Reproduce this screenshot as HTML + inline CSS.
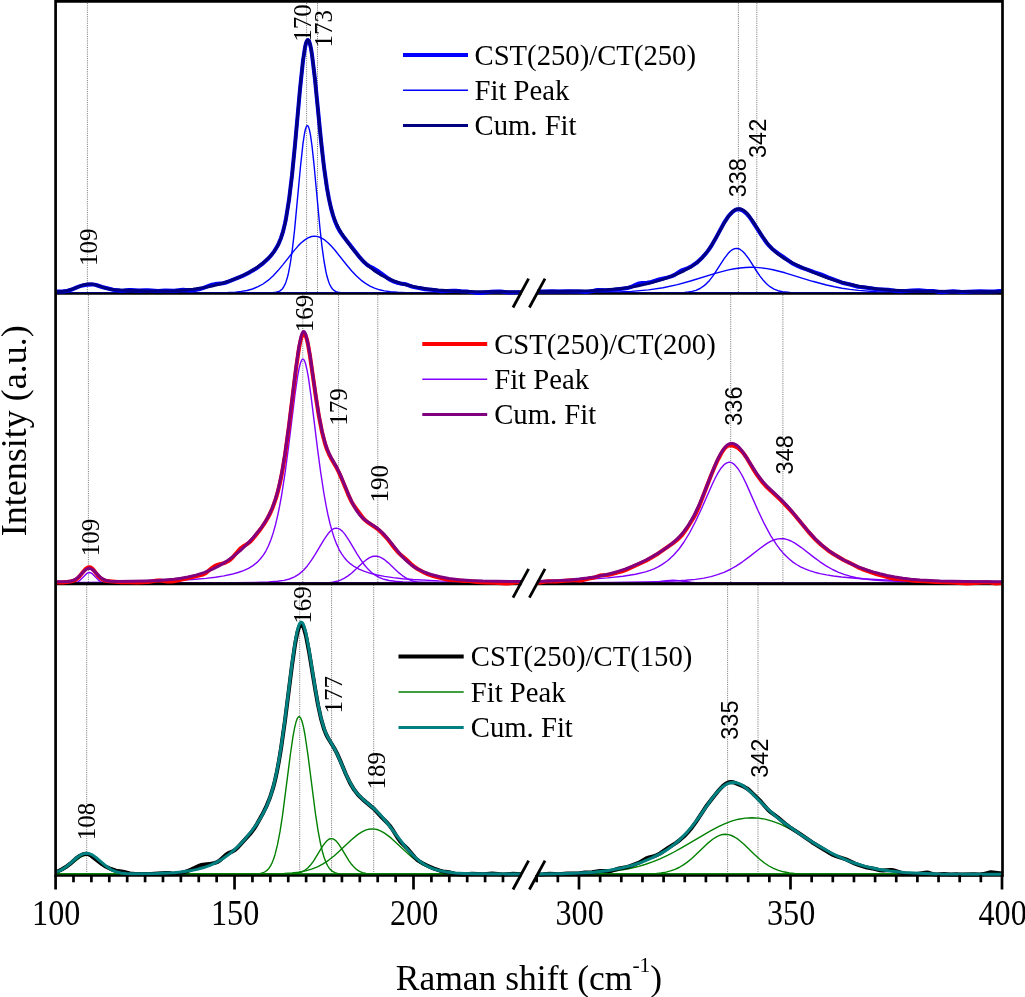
<!DOCTYPE html>
<html><head><meta charset="utf-8"><style>
html,body{margin:0;padding:0;background:#fff;width:1025px;height:997px;overflow:hidden}
svg{display:block;will-change:transform}
</style></head><body>
<svg width="1025" height="997" viewBox="0 0 1025 997">
<rect width="1025" height="997" fill="#fff"/>
<line x1="87.40" y1="3" x2="87.40" y2="292.0" stroke="#707070" stroke-width="0.9" stroke-dasharray="1.1 1.1"/>
<line x1="306.60" y1="3" x2="306.60" y2="292.0" stroke="#707070" stroke-width="0.9" stroke-dasharray="1.1 1.1"/>
<line x1="317.50" y1="3" x2="317.50" y2="292.0" stroke="#707070" stroke-width="0.9" stroke-dasharray="1.1 1.1"/>
<line x1="738.40" y1="3" x2="738.40" y2="292.0" stroke="#707070" stroke-width="0.9" stroke-dasharray="1.1 1.1"/>
<line x1="756.80" y1="3" x2="756.80" y2="292.0" stroke="#707070" stroke-width="0.9" stroke-dasharray="1.1 1.1"/>
<line x1="88.40" y1="295" x2="88.40" y2="582.0" stroke="#707070" stroke-width="0.9" stroke-dasharray="1.1 1.1"/>
<line x1="302.80" y1="295" x2="302.80" y2="582.0" stroke="#707070" stroke-width="0.9" stroke-dasharray="1.1 1.1"/>
<line x1="338.60" y1="295" x2="338.60" y2="582.0" stroke="#707070" stroke-width="0.9" stroke-dasharray="1.1 1.1"/>
<line x1="377.80" y1="295" x2="377.80" y2="582.0" stroke="#707070" stroke-width="0.9" stroke-dasharray="1.1 1.1"/>
<line x1="730.70" y1="295" x2="730.70" y2="582.0" stroke="#707070" stroke-width="0.9" stroke-dasharray="1.1 1.1"/>
<line x1="782.90" y1="295" x2="782.90" y2="582.0" stroke="#707070" stroke-width="0.9" stroke-dasharray="1.1 1.1"/>
<line x1="86.70" y1="585" x2="86.70" y2="874.3" stroke="#707070" stroke-width="0.9" stroke-dasharray="1.1 1.1"/>
<line x1="299.70" y1="585" x2="299.70" y2="874.3" stroke="#707070" stroke-width="0.9" stroke-dasharray="1.1 1.1"/>
<line x1="331.60" y1="585" x2="331.60" y2="874.3" stroke="#707070" stroke-width="0.9" stroke-dasharray="1.1 1.1"/>
<line x1="373.70" y1="585" x2="373.70" y2="874.3" stroke="#707070" stroke-width="0.9" stroke-dasharray="1.1 1.1"/>
<line x1="727.60" y1="585" x2="727.60" y2="874.3" stroke="#707070" stroke-width="0.9" stroke-dasharray="1.1 1.1"/>
<line x1="758.00" y1="585" x2="758.00" y2="874.3" stroke="#707070" stroke-width="0.9" stroke-dasharray="1.1 1.1"/>
<path d="M57.0,292.8 L268.5,292.8 L273.0,292.7 L276.0,292.3 L278.0,291.8 L280.0,290.9 L282.0,289.2 L283.5,287.3 L285.0,284.4 L286.0,281.9 L287.5,277.0 L288.5,272.9 L290.5,262.2 L292.5,248.1 L294.5,230.6 L300.5,166.5 L303.0,143.4 L304.5,133.5 L305.5,128.9 L306.5,126.3 L307.0,125.7 L307.5,125.6 L308.0,126.0 L308.5,126.9 L309.5,130.1 L310.5,135.2 L312.0,145.9 L314.0,164.5 L320.0,228.7 L322.0,246.6 L324.0,261.0 L326.0,272.0 L327.0,276.3 L328.5,281.3 L329.5,284.0 L331.0,286.9 L332.5,289.0 L334.0,290.4 L336.0,291.6 L338.0,292.2 L341.0,292.6 L345.5,292.8 L521.0,292.8" fill="none" stroke="#0000ff" stroke-width="1.4" stroke-linejoin="round"/>
<path d="M537.0,292.8 L1001.5,292.8" fill="none" stroke="#0000ff" stroke-width="1.4" stroke-linejoin="round"/>
<path d="M57.0,292.8 L218.5,292.7 L228.0,292.5 L235.5,292.1 L241.5,291.4 L247.0,290.5 L252.5,289.0 L258.0,286.7 L263.0,284.0 L268.0,280.4 L273.0,275.9 L278.0,270.6 L283.0,264.6 L294.5,250.1 L298.0,246.1 L301.0,243.0 L304.5,240.1 L308.0,237.9 L311.5,236.5 L314.5,236.1 L318.0,236.6 L321.5,238.0 L325.0,240.2 L328.5,243.2 L331.5,246.3 L335.0,250.3 L346.5,264.8 L351.5,270.8 L356.5,276.1 L361.0,280.1 L365.5,283.4 L370.0,286.1 L374.5,288.1 L379.5,289.8 L384.5,290.9 L390.5,291.8 L397.5,292.3 L406.0,292.6 L426.5,292.8 L521.0,292.8" fill="none" stroke="#0000ff" stroke-width="1.4" stroke-linejoin="round"/>
<path d="M537.0,292.8 L1001.5,292.8" fill="none" stroke="#0000ff" stroke-width="1.4" stroke-linejoin="round"/>
<path d="M57.0,292.8 L521.0,292.8" fill="none" stroke="#0000ff" stroke-width="1.4" stroke-linejoin="round"/>
<path d="M537.0,292.8 L673.5,292.8 L684.5,292.4 L688.5,292.0 L692.0,291.4 L696.0,290.3 L700.0,288.5 L703.5,286.2 L706.5,283.6 L709.5,280.4 L713.0,275.9 L724.0,258.9 L728.0,253.6 L730.5,251.0 L732.5,249.6 L734.5,248.7 L736.5,248.4 L738.5,248.7 L740.5,249.7 L742.5,251.2 L745.0,253.8 L749.0,259.2 L756.5,271.0 L760.0,276.1 L763.5,280.6 L766.5,283.8 L770.0,286.7 L774.0,289.1 L778.0,290.7 L782.5,291.7 L790.0,292.5 L802.5,292.8 L1001.5,292.8" fill="none" stroke="#0000ff" stroke-width="1.4" stroke-linejoin="round"/>
<path d="M57.0,292.8 L521.0,292.7" fill="none" stroke="#0000ff" stroke-width="1.4" stroke-linejoin="round"/>
<path d="M537.0,292.7 L585.5,292.6 L611.5,292.3 L631.5,291.4 L648.5,289.9 L663.0,287.7 L677.5,284.6 L690.5,281.0 L717.0,272.9 L728.5,269.9 L734.5,268.8 L740.0,268.0 L745.5,267.5 L751.0,267.3 L756.0,267.4 L761.5,267.9 L767.0,268.6 L773.0,269.8 L785.0,272.8 L812.5,281.3 L826.5,285.0 L834.5,286.8 L842.0,288.2 L850.0,289.4 L858.5,290.4 L876.5,291.8 L899.5,292.4 L930.0,292.7 L1001.5,292.8" fill="none" stroke="#0000ff" stroke-width="1.4" stroke-linejoin="round"/>
<line x1="55.6" y1="293.6" x2="1002.5" y2="293.6" stroke="#000" stroke-width="2.2"/>
<path d="M57.0,291.6 L63.0,291.5 L67.0,290.9 L71.0,289.8 L78.0,286.9 L81.0,285.9 L87.0,284.8 L92.0,284.5 L94.0,284.6 L96.0,285.0 L102.0,287.0 L113.0,289.7 L121.0,290.7 L124.0,290.6 L129.0,290.0 L131.0,289.9 L139.0,290.6 L145.0,290.3 L148.0,290.3 L158.0,291.1 L165.0,290.6 L174.0,290.7 L183.0,289.8 L191.0,290.4 L195.0,290.1 L199.0,289.2 L203.0,288.1 L212.0,284.7 L215.0,284.1 L223.0,283.2 L226.0,282.5 L229.0,281.4 L242.0,276.2 L250.0,272.1 L257.0,268.0 L262.0,264.2 L268.0,258.8 L271.0,255.5 L274.0,251.6 L277.0,246.8 L279.0,242.8 L281.0,237.9 L283.0,231.6 L285.0,223.4 L286.0,218.5 L289.0,199.9 L292.0,175.2 L295.0,144.9 L300.0,89.2 L303.0,60.7 L305.0,47.5 L306.0,43.3 L307.0,40.8 L308.0,40.1 L309.0,41.2 L310.0,44.1 L311.0,48.6 L312.0,54.7 L315.0,79.6 L321.0,140.5 L324.0,167.1 L327.0,188.1 L329.0,199.1 L331.0,208.1 L333.0,215.4 L335.0,221.3 L337.0,226.0 L339.0,229.9 L341.0,233.1 L344.0,237.3 L360.0,257.7 L364.0,262.1 L367.0,264.7 L369.0,266.0 L374.0,268.6 L377.0,270.4 L387.0,277.7 L391.0,280.3 L394.0,281.7 L397.0,282.7 L400.0,283.4 L406.0,284.3 L412.0,286.6 L414.0,287.1 L425.0,289.2 L434.0,289.9 L440.0,291.1 L442.0,291.3 L453.0,290.7 L456.0,290.7 L461.0,291.2 L468.0,291.6 L476.0,292.9 L479.0,293.0 L483.0,292.8 L491.0,291.7 L497.0,291.4 L501.0,291.6 L508.0,292.6 L521.0,292.3" fill="none" stroke="#0000ff" stroke-width="4" stroke-linejoin="round" />
<path d="M537.0,291.4 L544.0,291.5 L552.0,291.2 L559.0,291.5 L568.0,291.3 L578.0,291.5 L586.0,292.0 L590.0,291.6 L596.0,290.3 L598.0,290.0 L606.0,290.2 L614.0,289.8 L628.0,287.9 L631.0,287.0 L636.0,284.6 L639.0,283.5 L641.0,283.1 L647.0,282.8 L650.0,282.3 L659.0,279.5 L667.0,277.6 L672.0,276.1 L675.0,274.6 L681.0,270.6 L688.0,268.0 L692.0,265.9 L697.0,262.5 L701.0,258.8 L706.0,253.4 L709.0,249.4 L711.0,246.4 L715.0,239.6 L724.0,222.9 L728.0,216.8 L731.0,213.4 L733.0,211.6 L735.0,210.2 L736.0,209.8 L738.0,209.4 L740.0,209.5 L742.0,210.2 L744.0,211.4 L747.0,214.1 L749.0,216.4 L752.0,220.6 L763.0,237.7 L767.0,243.3 L769.0,245.7 L772.0,248.7 L778.0,253.4 L784.0,257.5 L792.0,263.2 L798.0,266.2 L802.0,267.9 L808.0,269.8 L814.0,272.2 L821.0,274.3 L828.0,277.3 L842.0,282.7 L850.0,284.5 L858.0,286.7 L865.0,287.4 L877.0,289.2 L888.0,289.7 L895.0,290.8 L899.0,291.2 L903.0,291.2 L912.0,290.5 L919.0,290.3 L927.0,290.9 L933.0,290.9 L939.0,292.0 L942.0,292.3 L945.0,292.1 L953.0,291.2 L962.0,292.0 L980.0,291.3 L988.0,291.5 L996.0,291.3 L1000.0,290.9 L1002.0,291.1" fill="none" stroke="#0000ff" stroke-width="4" stroke-linejoin="round" />
<path d="M57.0,291.8 L63.0,291.3 L68.0,290.4 L73.0,288.9 L83.0,285.0 L86.0,284.2 L89.0,283.9 L92.0,284.1 L95.0,284.7 L104.0,287.7 L109.0,288.9 L114.0,289.7 L120.0,290.1 L150.0,291.1 L166.0,291.1 L175.0,290.7 L184.0,290.1 L193.0,289.2 L201.0,288.1 L211.0,286.2 L221.0,283.7 L231.0,280.5 L240.0,276.9 L248.0,273.0 L255.0,268.9 L262.0,263.8 L268.0,258.5 L271.0,255.4 L274.0,251.6 L277.0,247.0 L279.0,243.0 L281.0,238.0 L283.0,231.7 L285.0,223.6 L286.0,218.7 L289.0,200.3 L292.0,175.6 L295.0,145.1 L300.0,89.1 L303.0,60.4 L305.0,47.2 L306.0,43.0 L307.0,40.5 L308.0,39.9 L309.0,41.0 L310.0,44.0 L311.0,48.6 L313.0,62.1 L315.0,79.8 L320.0,131.0 L323.0,159.2 L326.0,182.2 L328.0,194.2 L330.0,204.0 L332.0,211.7 L334.0,217.8 L336.0,222.8 L339.0,228.9 L342.0,233.9 L347.0,241.3 L352.0,248.1 L357.0,254.3 L363.0,260.9 L368.0,265.6 L374.0,270.4 L380.0,274.3 L387.0,278.0 L394.0,281.0 L402.0,283.7 L410.0,285.8 L419.0,287.6 L428.0,289.0 L438.0,290.0 L449.0,290.8 L461.0,291.3 L475.0,291.7 L521.0,291.9" fill="none" stroke="#000080" stroke-width="3" stroke-linejoin="round" />
<path d="M537.0,291.5 L568.0,291.2 L590.0,290.7 L607.0,289.8 L622.0,288.4 L636.0,286.3 L649.0,283.4 L662.0,279.6 L669.0,277.2 L675.0,274.8 L684.0,270.8 L691.0,266.9 L697.0,262.6 L702.0,257.9 L707.0,252.0 L711.0,246.2 L715.0,239.5 L724.0,223.5 L727.0,218.6 L729.0,215.7 L732.0,212.2 L734.0,210.5 L736.0,209.3 L737.0,209.0 L739.0,208.7 L741.0,209.0 L743.0,210.0 L745.0,211.4 L748.0,214.5 L752.0,219.9 L762.0,235.7 L767.0,242.7 L770.0,246.4 L773.0,249.6 L776.0,252.4 L779.0,254.8 L783.0,257.6 L788.0,260.5 L794.0,263.6 L802.0,267.4 L811.0,271.4 L820.0,275.1 L828.0,278.1 L835.0,280.4 L847.0,283.8 L860.0,286.5 L874.0,288.5 L889.0,289.9 L905.0,290.7 L926.0,291.2 L1002.0,291.7" fill="none" stroke="#000080" stroke-width="3" stroke-linejoin="round" />
<path d="M57.0,582.7 L113.0,582.1 L153.5,581.3 L183.5,580.1 L195.5,579.3 L206.0,578.4 L215.5,577.3 L224.0,575.9 L231.5,574.3 L238.0,572.5 L243.5,570.6 L248.5,568.3 L253.0,565.6 L257.0,562.4 L260.5,558.8 L263.5,554.9 L266.0,550.8 L268.5,545.7 L271.0,539.5 L273.0,533.6 L275.5,524.7 L277.5,516.3 L279.5,506.7 L281.5,495.8 L285.0,473.3 L288.5,447.1 L295.0,394.3 L297.5,376.9 L299.0,368.8 L300.5,362.9 L301.5,360.4 L302.0,359.7 L302.5,359.3 L303.0,359.2 L303.5,359.4 L304.0,359.9 L304.5,360.8 L305.5,363.5 L307.0,369.8 L308.5,378.2 L311.0,395.9 L317.5,448.7 L320.5,471.2 L324.0,494.0 L326.0,505.2 L328.0,515.0 L330.0,523.5 L332.0,530.9 L334.0,537.3 L336.5,543.9 L339.0,549.3 L341.5,553.7 L344.0,557.2 L347.0,560.7 L350.5,563.9 L354.5,566.7 L359.0,569.1 L364.5,571.4 L370.5,573.3 L377.0,575.0 L384.5,576.4 L393.0,577.6 L402.5,578.7 L413.0,579.5 L439.0,580.9 L473.5,581.8 L521.0,582.5" fill="none" stroke="#8000ff" stroke-width="1.4" stroke-linejoin="round"/>
<path d="M537.0,582.6 L689.0,583.2 L1001.5,583.4" fill="none" stroke="#8000ff" stroke-width="1.4" stroke-linejoin="round"/>
<path d="M57.0,583.4 L174.5,583.2 L235.5,582.8 L255.0,582.4 L268.5,582.0 L277.5,581.3 L284.0,580.4 L289.5,579.0 L294.5,576.9 L299.0,574.1 L303.5,570.2 L307.5,565.7 L311.5,560.2 L315.5,553.9 L324.0,539.6 L328.0,533.8 L330.5,531.0 L332.5,529.4 L334.5,528.4 L336.5,528.1 L338.5,528.6 L340.5,529.7 L342.5,531.4 L345.0,534.4 L349.0,540.3 L357.0,553.8 L360.5,559.4 L364.5,565.0 L368.0,569.1 L371.5,572.5 L375.5,575.4 L379.5,577.6 L384.0,579.3 L389.0,580.5 L395.0,581.3 L403.0,581.9 L414.0,582.3 L453.0,583.0 L521.0,583.3" fill="none" stroke="#8000ff" stroke-width="1.4" stroke-linejoin="round"/>
<path d="M537.0,583.3 L1001.5,583.5" fill="none" stroke="#8000ff" stroke-width="1.4" stroke-linejoin="round"/>
<path d="M57.0,583.5 L306.5,583.5 L319.5,583.4 L327.5,583.0 L332.5,582.3 L337.0,581.3 L341.0,579.9 L344.5,578.2 L348.0,575.9 L351.5,573.2 L363.0,562.5 L367.0,559.3 L369.5,557.7 L371.5,556.8 L373.5,556.3 L375.5,556.1 L377.5,556.3 L379.5,556.9 L381.5,557.8 L384.0,559.3 L388.0,562.6 L399.0,572.9 L402.0,575.3 L405.0,577.3 L408.0,579.0 L411.0,580.3 L414.0,581.3 L417.5,582.2 L424.5,583.0 L435.0,583.4 L521.0,583.5" fill="none" stroke="#8000ff" stroke-width="1.4" stroke-linejoin="round"/>
<path d="M537.0,583.5 L1001.5,583.5" fill="none" stroke="#8000ff" stroke-width="1.4" stroke-linejoin="round"/>
<path d="M57.0,583.3 L373.5,582.8 L460.0,582.3 L521.0,581.5" fill="none" stroke="#8000ff" stroke-width="1.4" stroke-linejoin="round"/>
<path d="M537.0,581.2 L565.0,580.3 L588.0,579.3 L607.5,577.9 L623.0,576.3 L635.5,574.3 L645.5,571.9 L650.0,570.4 L654.0,568.8 L658.0,566.9 L661.5,564.9 L667.5,560.7 L670.5,558.1 L673.5,555.2 L679.0,549.0 L684.0,542.0 L689.5,533.0 L695.5,521.5 L701.0,509.8 L712.5,483.7 L715.5,477.5 L718.0,472.9 L721.0,468.2 L724.0,464.8 L725.5,463.6 L727.0,462.8 L728.5,462.3 L729.5,462.3 L730.5,462.4 L732.0,462.9 L733.5,463.8 L735.0,465.1 L738.0,468.7 L741.0,473.5 L743.5,478.2 L746.5,484.4 L758.0,510.5 L764.0,523.2 L770.5,535.3 L776.5,544.7 L779.5,548.7 L783.0,552.9 L786.0,556.1 L789.5,559.3 L793.0,562.1 L796.5,564.5 L800.5,566.8 L804.5,568.7 L809.5,570.7 L814.5,572.2 L820.0,573.6 L826.5,574.9 L833.5,576.0 L841.5,577.0 L861.0,578.7 L885.5,580.0 L915.5,581.0 L953.5,581.8 L1001.5,582.3" fill="none" stroke="#8000ff" stroke-width="1.4" stroke-linejoin="round"/>
<path d="M57.0,583.4 L364.0,583.3 L521.0,583.1" fill="none" stroke="#8000ff" stroke-width="1.4" stroke-linejoin="round"/>
<path d="M537.0,583.0 L611.0,582.5 L658.5,581.6 L673.5,581.1 L685.5,580.3 L695.5,579.4 L704.0,578.1 L711.0,576.6 L717.5,574.7 L724.0,572.3 L730.0,569.5 L736.0,566.1 L742.5,561.8 L748.5,557.4 L761.5,547.3 L767.5,543.2 L771.0,541.2 L774.5,539.8 L778.0,538.9 L781.0,538.6 L784.0,538.8 L787.5,539.6 L791.0,541.0 L794.5,542.9 L801.0,547.3 L814.0,557.4 L820.0,561.8 L826.5,566.1 L832.5,569.5 L838.0,572.1 L844.0,574.4 L850.0,576.2 L856.5,577.7 L864.5,579.0 L873.5,580.0 L884.0,580.8 L897.5,581.4 L938.5,582.3 L1001.5,582.9" fill="none" stroke="#8000ff" stroke-width="1.4" stroke-linejoin="round"/>
<path d="M57.0,583.5 L71.0,583.4 L74.0,583.1 L76.0,582.6 L78.0,581.8 L80.0,580.3 L86.5,573.7 L88.0,572.8 L89.5,572.5 L91.0,572.9 L92.5,573.9 L98.0,579.6 L99.5,580.9 L101.0,581.9 L102.5,582.5 L104.5,583.1 L109.0,583.5 L521.0,583.5" fill="none" stroke="#8000ff" stroke-width="1.4" stroke-linejoin="round"/>
<path d="M537.0,583.5 L1001.5,583.5" fill="none" stroke="#8000ff" stroke-width="1.4" stroke-linejoin="round"/>
<path d="M57.0,583.5 L521.0,583.5" fill="none" stroke="#8000ff" stroke-width="1.4" stroke-linejoin="round"/>
<path d="M537.0,583.5 L640.0,583.4 L650.5,582.8 L666.5,580.7 L673.0,580.3 L679.5,580.7 L691.0,582.3 L696.5,582.9 L702.5,583.3 L710.5,583.5 L1001.5,583.5" fill="none" stroke="#8000ff" stroke-width="1.4" stroke-linejoin="round"/>
<line x1="55.6" y1="583.7" x2="1002.5" y2="583.7" stroke="#000" stroke-width="3.0"/>
<path d="M57.0,582.6 L63.0,582.4 L71.0,581.4 L73.0,581.0 L75.0,580.2 L77.0,578.9 L79.0,577.0 L84.0,570.8 L86.0,568.7 L88.0,567.4 L89.0,567.2 L90.0,567.3 L91.0,567.7 L92.0,568.4 L94.0,570.5 L98.0,575.7 L101.0,578.6 L104.0,580.3 L107.0,581.1 L121.0,582.2 L130.0,582.2 L137.0,582.5 L148.0,581.9 L157.0,580.5 L160.0,580.6 L167.0,581.5 L171.0,581.5 L174.0,581.2 L184.0,579.0 L203.0,574.5 L206.0,572.9 L212.0,567.8 L215.0,565.8 L218.0,564.7 L224.0,563.1 L226.0,562.3 L228.0,561.3 L230.0,559.9 L232.0,558.1 L239.0,550.0 L241.0,548.0 L243.0,546.5 L248.0,543.6 L251.0,541.0 L255.0,536.3 L261.0,528.5 L265.0,522.6 L268.0,517.5 L271.0,511.5 L273.0,506.7 L276.0,498.1 L278.0,491.1 L280.0,482.8 L282.0,473.0 L285.0,455.1 L289.0,425.7 L296.0,368.5 L299.0,348.1 L301.0,338.7 L302.0,335.8 L303.0,334.0 L304.0,333.6 L305.0,334.4 L306.0,336.6 L307.0,340.0 L308.0,344.5 L310.0,356.1 L316.0,397.9 L319.0,416.7 L322.0,432.0 L325.0,443.6 L327.0,449.5 L329.0,454.3 L331.0,458.2 L336.0,466.7 L339.0,472.6 L342.0,479.5 L348.0,494.1 L351.0,500.7 L354.0,505.8 L363.0,518.0 L365.0,520.1 L367.0,521.8 L376.0,527.9 L379.0,530.3 L382.0,533.1 L387.0,538.4 L395.0,548.8 L398.0,552.3 L401.0,555.1 L406.0,559.3 L412.0,564.9 L415.0,567.3 L418.0,569.2 L424.0,572.5 L428.0,574.4 L432.0,575.7 L444.0,578.8 L448.0,579.7 L451.0,580.1 L457.0,580.3 L464.0,580.9 L469.0,581.0 L477.0,582.0 L485.0,582.6 L495.0,582.7 L505.0,583.4 L508.0,583.4 L516.0,582.6 L521.0,582.4" fill="none" stroke="#ff0000" stroke-width="4" stroke-linejoin="round" />
<path d="M537.0,582.8 L540.0,582.5 L548.0,581.2 L556.0,581.5 L572.0,580.2 L575.0,580.2 L579.0,580.6 L582.0,580.4 L588.0,578.9 L593.0,577.8 L600.0,575.6 L602.0,575.3 L607.0,575.0 L610.0,574.6 L622.0,571.4 L626.0,569.9 L646.0,560.7 L658.0,553.7 L672.0,543.9 L678.0,539.2 L682.0,535.0 L687.0,528.2 L693.0,518.7 L696.0,513.2 L699.0,506.6 L711.0,475.5 L715.0,466.0 L718.0,459.5 L722.0,452.1 L725.0,447.9 L727.0,446.2 L728.0,445.7 L730.0,445.3 L732.0,445.6 L734.0,446.0 L737.0,447.3 L739.0,448.7 L742.0,451.6 L744.0,454.0 L747.0,458.4 L753.0,468.7 L756.0,473.5 L763.0,483.0 L767.0,487.3 L781.0,500.4 L791.0,510.9 L795.0,515.5 L808.0,531.3 L815.0,539.1 L821.0,544.8 L829.0,551.1 L833.0,553.7 L844.0,560.3 L850.0,563.1 L858.0,567.3 L862.0,569.0 L877.0,574.3 L884.0,576.1 L890.0,577.9 L894.0,578.8 L904.0,579.4 L917.0,581.1 L925.0,581.2 L936.0,582.1 L952.0,582.4 L967.0,583.4 L987.0,582.3 L990.0,582.5 L996.0,583.4 L1002.0,583.0" fill="none" stroke="#ff0000" stroke-width="4" stroke-linejoin="round" />
<path d="M57.0,581.7 L68.0,581.5 L71.0,581.0 L74.0,580.0 L76.0,578.9 L78.0,577.4 L84.0,571.2 L86.0,569.5 L88.0,568.5 L89.0,568.3 L91.0,568.7 L93.0,569.9 L100.0,576.9 L103.0,579.2 L106.0,580.5 L110.0,581.3 L116.0,581.5 L132.0,581.3 L146.0,581.0 L158.0,580.5 L174.0,579.2 L181.0,578.2 L188.0,577.0 L196.0,575.1 L204.0,572.6 L212.0,569.4 L219.0,565.9 L226.0,561.6 L233.0,556.6 L240.0,550.8 L247.0,544.1 L253.0,537.8 L258.0,531.8 L262.0,526.6 L266.0,520.5 L269.0,515.1 L272.0,508.5 L275.0,500.3 L277.0,493.6 L279.0,485.6 L281.0,476.4 L283.0,465.6 L285.0,453.3 L289.0,424.3 L296.0,366.9 L299.0,346.2 L301.0,336.5 L302.0,333.4 L303.0,331.7 L304.0,331.5 L305.0,332.7 L306.0,335.3 L308.0,343.7 L310.0,355.3 L316.0,396.7 L319.0,415.5 L322.0,430.9 L325.0,442.6 L327.0,448.5 L329.0,453.2 L331.0,457.2 L337.0,467.8 L340.0,473.9 L349.0,495.5 L352.0,502.2 L356.0,509.7 L358.0,512.7 L360.0,515.3 L362.0,517.4 L365.0,520.0 L376.0,527.3 L379.0,529.6 L382.0,532.3 L385.0,535.4 L388.0,538.9 L401.0,555.1 L405.0,559.4 L408.0,562.2 L411.0,564.7 L415.0,567.4 L419.0,569.7 L424.0,572.0 L431.0,574.5 L440.0,576.8 L449.0,578.4 L459.0,579.7 L470.0,580.5 L483.0,581.1 L521.0,581.6" fill="none" stroke="#800080" stroke-width="3" stroke-linejoin="round" />
<path d="M537.0,581.4 L560.0,580.6 L570.0,579.9 L579.0,579.1 L587.0,578.1 L595.0,576.9 L603.0,575.3 L610.0,573.7 L618.0,571.4 L625.0,569.1 L632.0,566.4 L639.0,563.4 L646.0,560.0 L653.0,556.2 L660.0,552.1 L666.0,548.1 L673.0,542.8 L679.0,537.2 L684.0,531.4 L689.0,524.3 L694.0,515.5 L699.0,505.0 L704.0,493.1 L714.0,467.6 L717.0,460.7 L720.0,454.7 L723.0,449.7 L726.0,446.1 L728.0,444.5 L729.0,444.0 L730.0,443.6 L732.0,443.4 L734.0,443.8 L736.0,444.8 L738.0,446.3 L740.0,448.4 L742.0,450.8 L745.0,455.1 L757.0,473.9 L760.0,478.0 L763.0,481.7 L768.0,487.2 L781.0,499.4 L787.0,505.6 L793.0,512.6 L807.0,529.8 L815.0,538.6 L822.0,545.2 L829.0,550.8 L837.0,556.1 L846.0,561.2 L852.0,564.1 L859.0,567.1 L866.0,569.7 L873.0,571.9 L880.0,573.8 L887.0,575.5 L895.0,577.0 L903.0,578.2 L911.0,579.2 L920.0,580.0 L940.0,581.0 L965.0,581.6 L1002.0,581.8" fill="none" stroke="#800080" stroke-width="3" stroke-linejoin="round" />
<path d="M57.0,874.3 L251.0,874.3 L256.5,874.1 L260.0,873.6 L263.0,872.8 L265.5,871.5 L267.5,869.9 L269.0,868.2 L270.5,865.9 L272.0,863.0 L273.5,859.3 L275.0,854.7 L277.5,844.7 L280.0,831.7 L282.5,815.7 L290.5,753.5 L293.0,736.4 L294.5,728.3 L296.0,722.1 L297.5,718.1 L298.5,716.9 L299.0,716.7 L299.5,716.7 L300.5,717.7 L302.0,721.3 L303.5,727.1 L305.0,735.0 L308.0,755.4 L315.5,814.0 L318.0,830.3 L320.5,843.6 L323.0,853.8 L324.5,858.6 L326.0,862.4 L327.5,865.5 L329.0,867.9 L330.5,869.7 L332.5,871.4 L335.0,872.7 L338.0,873.6 L341.5,874.0 L347.0,874.3 L521.0,874.3" fill="none" stroke="#008000" stroke-width="1.4" stroke-linejoin="round"/>
<path d="M537.0,874.3 L1001.5,874.3" fill="none" stroke="#008000" stroke-width="1.4" stroke-linejoin="round"/>
<path d="M57.0,874.3 L279.5,874.3 L289.0,874.2 L295.0,873.7 L299.0,872.9 L302.0,871.9 L305.0,870.2 L308.0,867.8 L310.5,865.1 L313.5,861.1 L322.0,847.2 L325.0,842.9 L327.0,840.7 L328.5,839.5 L330.0,838.8 L331.5,838.6 L333.0,838.9 L334.5,839.7 L336.0,840.9 L338.0,843.2 L341.0,847.6 L349.0,860.8 L351.5,864.3 L354.0,867.1 L356.5,869.4 L359.5,871.3 L362.5,872.6 L366.0,873.5 L371.5,874.1 L380.5,874.3 L521.0,874.3" fill="none" stroke="#008000" stroke-width="1.4" stroke-linejoin="round"/>
<path d="M537.0,874.3 L1001.5,874.3" fill="none" stroke="#008000" stroke-width="1.4" stroke-linejoin="round"/>
<path d="M57.0,874.3 L195.5,874.2 L261.5,873.9 L284.5,873.4 L292.0,872.9 L298.5,872.2 L305.5,870.9 L311.5,869.2 L317.5,866.8 L323.0,863.9 L328.5,860.3 L334.0,856.0 L339.5,851.1 L351.5,839.8 L358.0,834.4 L362.0,831.9 L365.5,830.2 L369.0,829.2 L372.0,828.9 L375.0,829.1 L378.0,829.8 L381.0,831.1 L384.5,833.1 L388.0,835.6 L391.5,838.4 L407.5,853.3 L412.0,857.2 L416.0,860.3 L421.0,863.6 L425.5,866.1 L430.0,868.1 L435.0,869.8 L440.5,871.2 L446.0,872.2 L452.0,872.9 L459.5,873.4 L478.5,873.9 L521.0,874.1" fill="none" stroke="#008000" stroke-width="1.4" stroke-linejoin="round"/>
<path d="M537.0,874.1 L1001.5,874.3" fill="none" stroke="#008000" stroke-width="1.4" stroke-linejoin="round"/>
<path d="M57.0,874.3 L521.0,874.3" fill="none" stroke="#008000" stroke-width="1.4" stroke-linejoin="round"/>
<path d="M537.0,874.3 L641.5,874.2 L655.5,873.6 L661.0,873.0 L666.0,872.1 L670.5,870.9 L675.0,869.3 L679.0,867.5 L683.0,865.1 L687.0,862.4 L691.5,858.7 L696.0,854.6 L707.0,843.9 L713.0,839.0 L716.5,836.8 L719.5,835.4 L722.5,834.5 L725.5,834.3 L728.5,834.6 L731.5,835.5 L734.5,837.0 L738.0,839.2 L744.0,844.3 L754.5,854.5 L759.5,859.0 L764.5,863.0 L769.0,866.0 L773.5,868.4 L778.5,870.4 L783.5,871.8 L789.5,873.0 L794.5,873.5 L800.5,873.9 L816.5,874.3 L1001.5,874.3" fill="none" stroke="#008000" stroke-width="1.4" stroke-linejoin="round"/>
<path d="M57.0,874.3 L521.0,874.3" fill="none" stroke="#008000" stroke-width="1.4" stroke-linejoin="round"/>
<path d="M537.0,874.3 L574.5,873.8 L587.5,873.4 L599.0,872.7 L609.5,871.8 L619.5,870.4 L628.5,868.8 L637.0,866.8 L645.0,864.5 L652.5,861.9 L660.0,858.8 L667.5,855.3 L674.0,852.0 L681.5,847.8 L710.5,830.8 L718.0,826.9 L724.5,823.9 L731.5,821.2 L738.5,819.2 L745.5,818.1 L752.0,817.7 L758.5,818.1 L765.0,819.1 L772.0,821.1 L779.0,823.7 L785.5,826.6 L793.0,830.5 L823.5,848.4 L831.5,852.8 L838.5,856.3 L847.0,860.1 L855.5,863.3 L864.0,866.0 L872.5,868.2 L882.0,870.0 L892.0,871.5 L903.0,872.6 L915.5,873.4 L929.0,873.8 L945.5,874.1 L1001.5,874.3" fill="none" stroke="#008000" stroke-width="1.4" stroke-linejoin="round"/>
<path d="M57.0,872.6 L61.5,870.9 L65.5,868.7 L69.5,865.8 L77.0,859.6 L80.5,857.2 L83.5,855.8 L86.5,855.3 L88.0,855.4 L90.0,855.9 L93.5,857.5 L97.0,860.0 L106.0,867.4 L109.0,869.4 L112.0,870.9 L115.5,872.3 L119.0,873.2 L123.0,873.8 L128.0,874.1 L146.0,874.3 L521.0,874.3" fill="none" stroke="#008000" stroke-width="1.4" stroke-linejoin="round"/>
<path d="M537.0,874.3 L1001.5,874.3" fill="none" stroke="#008000" stroke-width="1.4" stroke-linejoin="round"/>
<line x1="55.6" y1="875.6" x2="1002.5" y2="875.6" stroke="#000" stroke-width="2.2"/>
<path d="M57.0,871.7 L62.0,869.2 L67.0,866.2 L70.0,863.9 L76.0,858.5 L80.0,855.7 L83.0,854.3 L86.0,853.8 L88.0,854.1 L89.0,854.5 L91.0,855.6 L102.0,864.1 L105.0,866.2 L111.0,869.0 L116.0,870.7 L123.0,871.7 L130.0,873.4 L135.0,874.0 L143.0,873.9 L151.0,874.0 L158.0,873.4 L166.0,873.0 L169.0,873.1 L173.0,873.7 L176.0,873.6 L184.0,872.1 L187.0,871.3 L191.0,869.6 L198.0,866.2 L201.0,865.1 L209.0,864.1 L215.0,862.9 L217.0,862.2 L220.0,860.3 L226.0,854.7 L228.0,853.4 L232.0,851.7 L234.0,850.6 L236.0,849.1 L238.0,847.2 L251.0,832.8 L254.0,828.8 L256.0,825.7 L262.0,815.1 L266.0,807.2 L270.0,797.5 L273.0,788.2 L275.0,780.5 L277.0,771.4 L279.0,760.7 L281.0,748.6 L285.0,720.5 L292.0,665.2 L295.0,644.7 L297.0,634.3 L298.0,630.3 L299.0,627.3 L300.0,625.4 L301.0,624.6 L302.0,624.8 L303.0,626.2 L304.0,628.6 L306.0,635.9 L309.0,651.5 L315.0,688.0 L318.0,704.8 L321.0,718.6 L324.0,728.9 L326.0,734.0 L328.0,738.0 L334.0,747.7 L337.0,753.4 L340.0,760.1 L346.0,774.5 L350.0,782.9 L354.0,789.6 L358.0,794.7 L363.0,799.6 L374.0,808.9 L382.0,817.7 L388.0,823.7 L390.0,826.0 L392.0,828.8 L397.0,836.8 L400.0,841.1 L402.0,843.4 L408.0,849.3 L415.0,857.6 L417.0,859.6 L419.0,861.1 L422.0,862.9 L427.0,865.5 L434.0,868.6 L440.0,870.7 L443.0,871.4 L449.0,872.3 L455.0,873.8 L458.0,874.3 L462.0,874.4 L472.0,873.7 L484.0,874.2 L492.0,873.5 L495.0,873.7 L503.0,874.6 L513.0,873.8 L521.0,874.2" fill="none" stroke="#000000" stroke-width="4" stroke-linejoin="round" />
<path d="M537.0,874.4 L543.0,874.3 L550.0,873.8 L559.0,874.2 L567.0,873.6 L578.0,873.5 L585.0,872.6 L592.0,872.3 L600.0,871.0 L602.0,870.9 L608.0,871.3 L610.0,871.1 L612.0,870.7 L619.0,868.5 L626.0,867.3 L628.0,866.8 L639.0,862.7 L647.0,858.1 L649.0,857.4 L654.0,856.2 L657.0,855.1 L660.0,853.5 L668.0,848.0 L676.0,842.9 L680.0,839.8 L685.0,835.4 L689.0,831.1 L692.0,827.4 L696.0,821.8 L707.0,805.2 L712.0,798.7 L719.0,790.1 L723.0,785.9 L726.0,783.5 L729.0,782.2 L731.0,782.0 L733.0,782.2 L735.0,782.9 L744.0,786.7 L747.0,788.4 L750.0,790.9 L758.0,798.6 L761.0,801.7 L768.0,809.7 L771.0,812.4 L778.0,817.5 L785.0,823.5 L790.0,827.3 L800.0,833.9 L812.0,842.2 L830.0,853.3 L833.0,855.0 L836.0,856.2 L846.0,859.4 L855.0,863.6 L859.0,865.2 L867.0,867.6 L874.0,868.7 L880.0,870.2 L883.0,870.5 L890.0,869.9 L892.0,870.0 L894.0,870.4 L901.0,872.7 L905.0,873.4 L910.0,873.9 L917.0,874.0 L925.0,872.7 L927.0,872.5 L929.0,872.8 L934.0,874.3 L936.0,874.5 L944.0,874.1 L951.0,874.4 L956.0,874.2 L961.0,874.4 L974.0,874.2 L980.0,874.4 L983.0,874.1 L989.0,872.6 L991.0,872.3 L1002.0,873.6" fill="none" stroke="#000000" stroke-width="4" stroke-linejoin="round" />
<path d="M57.0,871.8 L61.0,870.1 L65.0,867.7 L69.0,864.5 L77.0,857.5 L80.0,855.4 L83.0,853.9 L86.0,853.3 L89.0,853.6 L91.0,854.3 L93.0,855.4 L97.0,858.3 L106.0,866.1 L111.0,869.5 L113.0,870.5 L116.0,871.7 L121.0,872.9 L126.0,873.5 L132.0,873.8 L156.0,873.5 L174.0,872.7 L181.0,872.0 L188.0,871.1 L196.0,869.6 L203.0,867.8 L210.0,865.3 L216.0,862.6 L222.0,859.2 L228.0,855.1 L234.0,850.2 L240.0,844.5 L246.0,837.9 L252.0,830.6 L257.0,823.6 L261.0,817.3 L265.0,809.8 L268.0,803.0 L271.0,794.5 L273.0,787.7 L275.0,779.7 L277.0,770.4 L279.0,759.7 L281.0,747.6 L285.0,719.2 L292.0,663.5 L295.0,642.7 L297.0,632.0 L298.0,628.0 L299.0,625.0 L300.0,623.0 L301.0,622.1 L302.0,622.4 L303.0,623.7 L304.0,626.0 L306.0,633.2 L309.0,649.2 L315.0,687.1 L318.0,704.1 L321.0,717.9 L324.0,728.2 L326.0,733.3 L328.0,737.4 L334.0,747.8 L337.0,753.6 L346.0,774.3 L349.0,780.6 L353.0,787.7 L355.0,790.7 L358.0,794.4 L363.0,799.3 L375.0,809.5 L381.0,815.6 L388.0,824.0 L404.0,845.1 L408.0,849.9 L412.0,854.3 L416.0,858.2 L420.0,861.5 L424.0,864.3 L429.0,867.0 L434.0,869.1 L440.0,870.8 L447.0,872.1 L455.0,873.0 L464.0,873.4 L476.0,873.7 L521.0,874.0" fill="none" stroke="#008080" stroke-width="3" stroke-linejoin="round" />
<path d="M537.0,874.1 L561.0,873.7 L579.0,873.1 L594.0,872.2 L607.0,870.7 L619.0,868.6 L631.0,865.7 L642.0,862.1 L652.0,857.9 L660.0,853.9 L667.0,849.7 L674.0,844.6 L680.0,839.5 L687.0,832.4 L693.0,825.2 L699.0,817.1 L711.0,799.9 L715.0,794.7 L718.0,791.2 L722.0,787.3 L726.0,784.4 L728.0,783.5 L730.0,782.8 L733.0,782.4 L736.0,782.7 L739.0,783.6 L742.0,785.1 L746.0,787.9 L751.0,792.3 L766.0,807.4 L775.0,815.6 L780.0,819.7 L786.0,824.3 L801.0,834.7 L817.0,844.9 L830.0,852.3 L837.0,855.9 L843.0,858.7 L849.0,861.1 L855.0,863.3 L866.0,866.6 L878.0,869.3 L890.0,871.1 L904.0,872.5 L919.0,873.3 L938.0,873.9 L1002.0,874.2" fill="none" stroke="#008080" stroke-width="3" stroke-linejoin="round" />
<rect x="521.5" y="285.1" width="15" height="16" fill="#fff"/>
<line x1="513" y1="307.5" x2="528.6" y2="278.70000000000005" stroke="#000" stroke-width="2.8"/>
<line x1="529.4" y1="307.5" x2="545" y2="278.70000000000005" stroke="#000" stroke-width="2.8"/>
<rect x="521.5" y="575.2" width="15" height="16" fill="#fff"/>
<line x1="513" y1="597.6" x2="528.6" y2="568.8000000000001" stroke="#000" stroke-width="2.8"/>
<line x1="529.4" y1="597.6" x2="545" y2="568.8000000000001" stroke="#000" stroke-width="2.8"/>
<rect x="521.5" y="867.1" width="15" height="16" fill="#fff"/>
<line x1="513" y1="889.5" x2="528.6" y2="860.7" stroke="#000" stroke-width="2.8"/>
<line x1="529.4" y1="889.5" x2="545" y2="860.7" stroke="#000" stroke-width="2.8"/>
<text transform='translate(97.1,247.3) rotate(-90)' font-family='"Liberation Serif", serif' font-size='25.0' text-anchor='middle'>109</text>
<text transform='translate(310.7,22.9) rotate(-90)' font-family='"Liberation Serif", serif' font-size='25.0' text-anchor='middle'>170</text>
<text transform='translate(332.3,28.7) rotate(-90)' font-family='"Liberation Serif", serif' font-size='25.0' text-anchor='middle'>173</text>
<text transform='translate(746.1,177.7) rotate(-90)' font-family='"Liberation Sans", sans-serif' font-size='23.5' text-anchor='middle'>338</text>
<text transform='translate(766.2,138.4) rotate(-90)' font-family='"Liberation Sans", sans-serif' font-size='23.5' text-anchor='middle'>342</text>
<text transform='translate(98.8,537.6) rotate(-90)' font-family='"Liberation Serif", serif' font-size='25.0' text-anchor='middle'>109</text>
<text transform='translate(313.0,313.6) rotate(-90)' font-family='"Liberation Serif", serif' font-size='25.0' text-anchor='middle'>169</text>
<text transform='translate(347.0,407.0) rotate(-90)' font-family='"Liberation Serif", serif' font-size='25.0' text-anchor='middle'>179</text>
<text transform='translate(388.1,483.7) rotate(-90)' font-family='"Liberation Serif", serif' font-size='25.0' text-anchor='middle'>190</text>
<text transform='translate(741.6,406.1) rotate(-90)' font-family='"Liberation Sans", sans-serif' font-size='23.5' text-anchor='middle'>336</text>
<text transform='translate(793.2,454.8) rotate(-90)' font-family='"Liberation Sans", sans-serif' font-size='23.5' text-anchor='middle'>348</text>
<text transform='translate(94.9,821.5) rotate(-90)' font-family='"Liberation Serif", serif' font-size='25.0' text-anchor='middle'>108</text>
<text transform='translate(311.1,604.9) rotate(-90)' font-family='"Liberation Serif", serif' font-size='25.0' text-anchor='middle'>169</text>
<text transform='translate(342.2,694.8) rotate(-90)' font-family='"Liberation Serif", serif' font-size='25.0' text-anchor='middle'>177</text>
<text transform='translate(385.1,770.8) rotate(-90)' font-family='"Liberation Serif", serif' font-size='25.0' text-anchor='middle'>189</text>
<text transform='translate(738.1,720.1) rotate(-90)' font-family='"Liberation Sans", sans-serif' font-size='23.5' text-anchor='middle'>335</text>
<text transform='translate(768.2,758.2) rotate(-90)' font-family='"Liberation Sans", sans-serif' font-size='23.5' text-anchor='middle'>342</text>
<line x1="55.6" y1="1.3" x2="1002.5" y2="1.3" stroke="#000" stroke-width="3"/>
<line x1="55.6" y1="0" x2="55.6" y2="876.8" stroke="#000" stroke-width="2.7"/>
<line x1="1002.5" y1="0" x2="1002.5" y2="876.8" stroke="#000" stroke-width="2.7"/>
<line x1="55.60" y1="875" x2="55.60" y2="889.5" stroke="#000" stroke-width="2.7"/>
<line x1="73.50" y1="875" x2="73.50" y2="882.3" stroke="#000" stroke-width="2.7"/>
<line x1="91.39" y1="875" x2="91.39" y2="882.3" stroke="#000" stroke-width="2.7"/>
<line x1="109.28" y1="875" x2="109.28" y2="882.3" stroke="#000" stroke-width="2.7"/>
<line x1="127.18" y1="875" x2="127.18" y2="882.3" stroke="#000" stroke-width="2.7"/>
<line x1="145.08" y1="875" x2="145.08" y2="882.3" stroke="#000" stroke-width="2.7"/>
<line x1="162.97" y1="875" x2="162.97" y2="882.3" stroke="#000" stroke-width="2.7"/>
<line x1="180.87" y1="875" x2="180.87" y2="882.3" stroke="#000" stroke-width="2.7"/>
<line x1="198.76" y1="875" x2="198.76" y2="882.3" stroke="#000" stroke-width="2.7"/>
<line x1="216.66" y1="875" x2="216.66" y2="882.3" stroke="#000" stroke-width="2.7"/>
<line x1="234.55" y1="875" x2="234.55" y2="889.5" stroke="#000" stroke-width="2.7"/>
<line x1="252.44" y1="875" x2="252.44" y2="882.3" stroke="#000" stroke-width="2.7"/>
<line x1="270.34" y1="875" x2="270.34" y2="882.3" stroke="#000" stroke-width="2.7"/>
<line x1="288.24" y1="875" x2="288.24" y2="882.3" stroke="#000" stroke-width="2.7"/>
<line x1="306.13" y1="875" x2="306.13" y2="882.3" stroke="#000" stroke-width="2.7"/>
<line x1="324.03" y1="875" x2="324.03" y2="882.3" stroke="#000" stroke-width="2.7"/>
<line x1="341.92" y1="875" x2="341.92" y2="882.3" stroke="#000" stroke-width="2.7"/>
<line x1="359.82" y1="875" x2="359.82" y2="882.3" stroke="#000" stroke-width="2.7"/>
<line x1="377.71" y1="875" x2="377.71" y2="882.3" stroke="#000" stroke-width="2.7"/>
<line x1="395.61" y1="875" x2="395.61" y2="882.3" stroke="#000" stroke-width="2.7"/>
<line x1="413.50" y1="875" x2="413.50" y2="889.5" stroke="#000" stroke-width="2.7"/>
<line x1="431.40" y1="875" x2="431.40" y2="882.3" stroke="#000" stroke-width="2.7"/>
<line x1="449.29" y1="875" x2="449.29" y2="882.3" stroke="#000" stroke-width="2.7"/>
<line x1="467.19" y1="875" x2="467.19" y2="882.3" stroke="#000" stroke-width="2.7"/>
<line x1="485.08" y1="875" x2="485.08" y2="882.3" stroke="#000" stroke-width="2.7"/>
<line x1="502.98" y1="875" x2="502.98" y2="882.3" stroke="#000" stroke-width="2.7"/>
<line x1="536.70" y1="875" x2="536.70" y2="882.3" stroke="#000" stroke-width="2.7"/>
<line x1="557.85" y1="875" x2="557.85" y2="882.3" stroke="#000" stroke-width="2.7"/>
<line x1="579.00" y1="875" x2="579.00" y2="889.5" stroke="#000" stroke-width="2.7"/>
<line x1="600.15" y1="875" x2="600.15" y2="882.3" stroke="#000" stroke-width="2.7"/>
<line x1="621.30" y1="875" x2="621.30" y2="882.3" stroke="#000" stroke-width="2.7"/>
<line x1="642.45" y1="875" x2="642.45" y2="882.3" stroke="#000" stroke-width="2.7"/>
<line x1="663.60" y1="875" x2="663.60" y2="882.3" stroke="#000" stroke-width="2.7"/>
<line x1="684.75" y1="875" x2="684.75" y2="882.3" stroke="#000" stroke-width="2.7"/>
<line x1="705.90" y1="875" x2="705.90" y2="882.3" stroke="#000" stroke-width="2.7"/>
<line x1="727.05" y1="875" x2="727.05" y2="882.3" stroke="#000" stroke-width="2.7"/>
<line x1="748.20" y1="875" x2="748.20" y2="882.3" stroke="#000" stroke-width="2.7"/>
<line x1="769.35" y1="875" x2="769.35" y2="882.3" stroke="#000" stroke-width="2.7"/>
<line x1="790.50" y1="875" x2="790.50" y2="889.5" stroke="#000" stroke-width="2.7"/>
<line x1="811.65" y1="875" x2="811.65" y2="882.3" stroke="#000" stroke-width="2.7"/>
<line x1="832.80" y1="875" x2="832.80" y2="882.3" stroke="#000" stroke-width="2.7"/>
<line x1="853.95" y1="875" x2="853.95" y2="882.3" stroke="#000" stroke-width="2.7"/>
<line x1="875.10" y1="875" x2="875.10" y2="882.3" stroke="#000" stroke-width="2.7"/>
<line x1="896.25" y1="875" x2="896.25" y2="882.3" stroke="#000" stroke-width="2.7"/>
<line x1="917.40" y1="875" x2="917.40" y2="882.3" stroke="#000" stroke-width="2.7"/>
<line x1="938.55" y1="875" x2="938.55" y2="882.3" stroke="#000" stroke-width="2.7"/>
<line x1="959.70" y1="875" x2="959.70" y2="882.3" stroke="#000" stroke-width="2.7"/>
<line x1="980.85" y1="875" x2="980.85" y2="882.3" stroke="#000" stroke-width="2.7"/>
<line x1="1002.00" y1="875" x2="1002.00" y2="889.5" stroke="#000" stroke-width="2.7"/>
<text transform="translate(56.20,925) scale(0.92,1)" font-family='"Liberation Serif", serif' font-size="35" text-anchor="middle">100</text>
<text transform="translate(235.15,925) scale(0.92,1)" font-family='"Liberation Serif", serif' font-size="35" text-anchor="middle">150</text>
<text transform="translate(414.10,925) scale(0.92,1)" font-family='"Liberation Serif", serif' font-size="35" text-anchor="middle">200</text>
<text transform="translate(579.60,925) scale(0.92,1)" font-family='"Liberation Serif", serif' font-size="35" text-anchor="middle">300</text>
<text transform="translate(791.10,925) scale(0.92,1)" font-family='"Liberation Serif", serif' font-size="35" text-anchor="middle">350</text>
<text transform="translate(1002.60,925) scale(0.92,1)" font-family='"Liberation Serif", serif' font-size="35" text-anchor="middle">400</text>
<text x="395.8" y="989.8" font-family='"Liberation Serif", serif' font-size="35.5">Raman shift (cm<tspan font-size="21.5" dy="-18.3">-1</tspan><tspan dy="18.3">)</tspan></text>
<text transform="translate(26.1,536.3) rotate(-90)" x="0" y="0" font-family='"Liberation Serif", serif' font-size="36">Intensity (a.u.)</text>
<line x1="403" y1="54.9" x2="468" y2="54.9" stroke="#0000ff" stroke-width="4"/>
<text x="474.5" y="64.5" font-family='"Liberation Serif", serif' font-size="28.7">CST(250)/CT(250)</text>
<line x1="403" y1="90.2" x2="468" y2="90.2" stroke="#0000ff" stroke-width="1.5"/>
<text x="474.5" y="99.8" font-family='"Liberation Serif", serif' font-size="28.7">Fit Peak</text>
<line x1="403" y1="125.5" x2="468" y2="125.5" stroke="#000080" stroke-width="3"/>
<text x="474.5" y="135.1" font-family='"Liberation Serif", serif' font-size="28.7">Cum. Fit</text>
<line x1="422.3" y1="343.9" x2="487.2" y2="343.9" stroke="#ff0000" stroke-width="4"/>
<text x="494.2" y="353.5" font-family='"Liberation Serif", serif' font-size="28.7">CST(250)/CT(200)</text>
<line x1="422.3" y1="379.3" x2="487.2" y2="379.3" stroke="#8000ff" stroke-width="1.5"/>
<text x="494.2" y="388.9" font-family='"Liberation Serif", serif' font-size="28.7">Fit Peak</text>
<line x1="422.3" y1="414.5" x2="487.2" y2="414.5" stroke="#800080" stroke-width="3"/>
<text x="494.2" y="424.1" font-family='"Liberation Serif", serif' font-size="28.7">Cum. Fit</text>
<line x1="398.5" y1="656.5" x2="463.7" y2="656.5" stroke="#000000" stroke-width="4"/>
<text x="470.8" y="666.1" font-family='"Liberation Serif", serif' font-size="28.7">CST(250)/CT(150)</text>
<line x1="398.5" y1="692.1" x2="463.7" y2="692.1" stroke="#008000" stroke-width="1.5"/>
<text x="470.8" y="701.7" font-family='"Liberation Serif", serif' font-size="28.7">Fit Peak</text>
<line x1="398.5" y1="727.5" x2="463.7" y2="727.5" stroke="#008080" stroke-width="3"/>
<text x="470.8" y="737.1" font-family='"Liberation Serif", serif' font-size="28.7">Cum. Fit</text>
</svg></body></html>
